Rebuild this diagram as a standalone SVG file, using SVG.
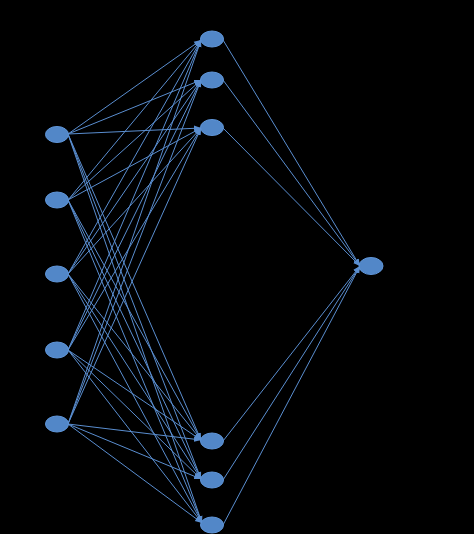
<svg xmlns="http://www.w3.org/2000/svg" width="474" height="534" viewBox="0 0 474 534">
<style>
.n{fill:#5287c8;stroke:#5f95d8;stroke-width:1}
.c line{stroke:#5a8ed0;stroke-width:1;marker-end:url(#a)}
</style>
<defs>
<marker id="a" viewBox="0 0 10 10" refX="10" refY="5" markerWidth="7" markerHeight="7" markerUnits="userSpaceOnUse" orient="auto">
<path d="M0,1 L10,5 L0,9 Z" fill="#5a8ed0"/>
</marker>
</defs>
<rect width="474" height="534" fill="#000"/>
<g id="connectors" class="c">
<line x1="68" y1="134" x2="201" y2="40"/>
<line x1="68" y1="134" x2="201" y2="80"/>
<line x1="68" y1="134" x2="201" y2="128"/>
<line x1="68" y1="134" x2="201" y2="440"/>
<line x1="68" y1="134" x2="201" y2="479"/>
<line x1="68" y1="134" x2="202" y2="523"/>
<line x1="68" y1="200" x2="201" y2="40"/>
<line x1="68" y1="200" x2="201" y2="80"/>
<line x1="68" y1="200" x2="201" y2="128"/>
<line x1="68" y1="200" x2="201" y2="440"/>
<line x1="68" y1="200" x2="201" y2="479"/>
<line x1="68" y1="200" x2="202" y2="523"/>
<line x1="68" y1="274" x2="201" y2="40"/>
<line x1="68" y1="274" x2="201" y2="80"/>
<line x1="68" y1="274" x2="201" y2="128"/>
<line x1="68" y1="274" x2="201" y2="440"/>
<line x1="68" y1="274" x2="201" y2="479"/>
<line x1="68" y1="274" x2="202" y2="523"/>
<line x1="68" y1="350" x2="201" y2="40"/>
<line x1="68" y1="350" x2="201" y2="80"/>
<line x1="68" y1="350" x2="201" y2="128"/>
<line x1="68" y1="350" x2="201" y2="440"/>
<line x1="68" y1="350" x2="201" y2="479"/>
<line x1="68" y1="350" x2="202" y2="523"/>
<line x1="68" y1="424" x2="201" y2="40"/>
<line x1="68" y1="424" x2="201" y2="80"/>
<line x1="68" y1="424" x2="201" y2="128"/>
<line x1="68" y1="424" x2="201" y2="440"/>
<line x1="68" y1="424" x2="201" y2="479"/>
<line x1="68" y1="424" x2="202" y2="523"/>
<line x1="223" y1="40" x2="360" y2="266"/>
<line x1="223" y1="80" x2="360" y2="266"/>
<line x1="223" y1="128" x2="360" y2="266"/>
<line x1="223" y1="441" x2="360" y2="266"/>
<line x1="223" y1="480" x2="360" y2="266"/>
<line x1="223" y1="525" x2="360" y2="266"/>
</g>
<g id="in1"><ellipse class="n" cx="57" cy="134.5" rx="11.5" ry="8"/></g>
<g id="in2"><ellipse class="n" cx="57" cy="200" rx="11.5" ry="8"/></g>
<g id="in3"><ellipse class="n" cx="57" cy="274" rx="11.5" ry="8"/></g>
<g id="in4"><ellipse class="n" cx="57" cy="350" rx="11.5" ry="8"/></g>
<g id="in5"><ellipse class="n" cx="57" cy="424" rx="11.5" ry="8"/></g>
<g id="h1"><ellipse class="n" cx="212" cy="39" rx="11.5" ry="8"/></g>
<g id="h2"><ellipse class="n" cx="212" cy="80" rx="11.5" ry="8"/></g>
<g id="h3"><ellipse class="n" cx="212" cy="127.5" rx="11.5" ry="8"/></g>
<g id="h4"><ellipse class="n" cx="212" cy="441" rx="11.5" ry="8"/></g>
<g id="h5"><ellipse class="n" cx="212" cy="480" rx="11.5" ry="8"/></g>
<g id="h6"><ellipse class="n" cx="212" cy="525" rx="11.5" ry="8"/></g>
<g id="out"><ellipse class="n" cx="371" cy="266" rx="12" ry="8.5"/></g>
</svg>
